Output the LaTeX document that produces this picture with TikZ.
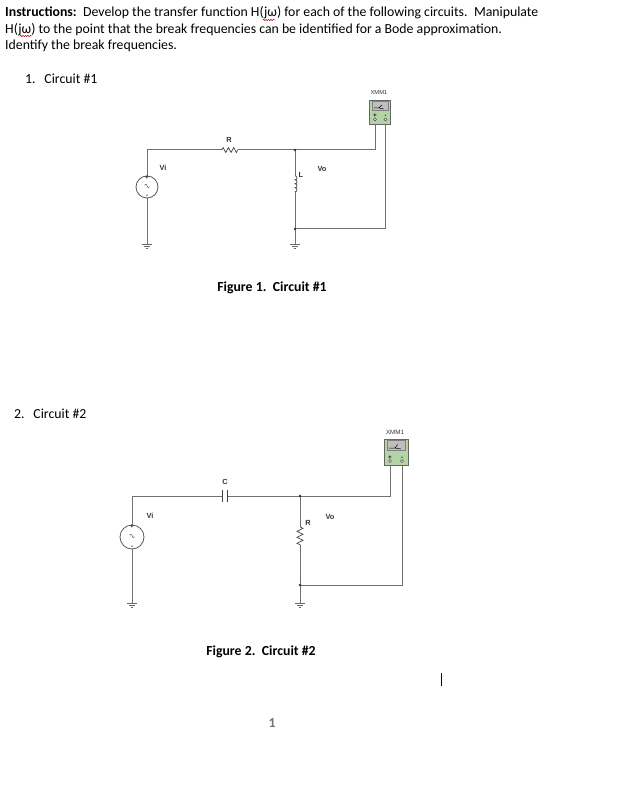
\documentclass[tikz,border=0pt]{standalone}
\usepackage{fontspec}
\setmainfont{Carlito}
\newfontfamily\schfont{Liberation Sans}
\usetikzlibrary{positioning,decorations.pathmorphing}

\definecolor{wiregray}{HTML}{707070}
\definecolor{metergreen}{HTML}{B4D3A6}

\tikzset{
    body/.style={anchor=west, inner sep=0pt, font=\fontsize{13.8}{15}\selectfont},
    caption/.style={inner sep=0pt, font=\fontsize{13.8}{15}\selectfont\bfseries},
    tag/.style={inner sep=0pt, font=\schfont\fontsize{7.4}{8}\selectfont\bfseries, text=black!80},
    wire/.style={draw=wiregray, line width=1pt},
    part/.style={inner sep=0pt, minimum width=#1, minimum height=6pt},
    srcbox/.style={draw=black!65, fill=white, circle, line width=0.8pt, inner sep=0pt, minimum size=#1,
        font=\fontsize{8}{8}\selectfont},
    meterbox/.style={draw=black!60, fill=metergreen, line width=0.8pt, inner sep=0pt, minimum width=#1, minimum height=24pt},
    port/.style={draw=black!70, fill=white, circle, line width=0.5pt, inner sep=0pt, minimum size=3pt},
    polmark/.style={inner sep=0pt, font=\fontsize{6.5}{6.5}\selectfont\bfseries},
    jdot/.style={fill=black!80, circle, inner sep=0pt, minimum size=2.6pt},
    gnd/.pic={
        \draw[black!60, line width=0.7pt] (-5,0) -- (5,0);
        \draw[black!60, line width=0.7pt] (-3.2,2) -- (3.2,2);
        \draw[black!60, line width=0.7pt] (-1.4,4) -- (1.4,4);
    },
    resistor/.style={draw=black!75, line width=0.7pt, decorate, decoration={zigzag, segment length=5.3pt, amplitude=2.5pt}},
    squiggle/.style={draw=red!80!black, line width=0.5pt, decorate, decoration={snake, segment length=2.4pt, amplitude=0.7pt}},
}

\begin{document}
\begin{tikzpicture}[x=1pt, y=-1pt]
\useasboundingbox (0,0) rectangle (624,786);

% heading text
\node[body] (line1) at (5,13) {\textbf{Instructions:}\, Develop the transfer function H(jω) for each of the following circuits.\, Manipulate};
\node[body] (line2) at (5,30) {H(jω) to the point that the break frequencies can be identified for a Bode approximation.};
\node[body] (line3) at (5,46) {Identify the break frequencies.};
\draw[squiggle] (263,20) -- (275,20);
\draw[squiggle] (20,36) -- (32,36);
\node[body] (item1) at (25,79) {1.\,\, Circuit \#1};
\node[body] (item2) at (14,414) {2.\,\, Circuit \#2};

% circuit 1
\coordinate (c1) at (147,150);
\coordinate (j1) at (295,150);
\coordinate (j2) at (295,229);
\coordinate (g1) at (147,244);
\coordinate (g2) at (295,244);
\node[part=16pt] (r1) at (230,150) {};
\node[part=16pt, rotate=90] (l1) at (295,184) {};
\node[port] (xmm1a) at (375,119.5) {};
\node[port] (xmm1b) at (385.5,119.5) {};
\draw[wire] (c1) -- (g1);
\draw[wire] (c1) -- (r1.west);
\draw[wire] (r1.east) -- (j1) -- (l1.east);
\draw[wire] (l1.west) -- (g2);
\draw[wire] (j1) -| (xmm1a);
\draw[wire] (j2) -| (xmm1b);
\draw[resistor] (r1.west) -- (r1.east);
\draw[draw=white, line width=1.4pt] (l1.east) -- (l1.west);
\draw[black!75, line width=0.7pt] (l1.east)
    \foreach \bump in {1,...,4} {arc[start angle=-90, end angle=90, radius=2]};
\node[srcbox=22pt] (vs1) at (147,187) {\rotatebox{-30}{$\sim$}};
\node[polmark, below=0.5pt of vs1.north] (vs1p) {+};
\node[polmark, above=1pt of vs1.south] (vs1m) {-};
\node[meterbox=21pt] (xmm1) at (380,112) {};
\node[draw=black!50, fill=black!25, line width=0.4pt, minimum width=16pt, minimum height=9pt, inner sep=0pt, below=1.5pt of xmm1.north] (disp1) {};
\node[port] at (xmm1a) {};
\node[port] at (xmm1b) {};
\node[polmark, above=0pt of xmm1a] (plus1) {+};
\node[polmark, above=0pt of xmm1b] (minus1) {-};
\draw[black, line width=0.5pt] (disp1.south west) ++(2,-2.5) -- ++(5,0) -- ++(3,-3) ++(-3,3) -- ++(5,1);
\node[jdot] (j1dot) at (j1) {};
\node[jdot] (j2dot) at (j2) {};
\pic at (g1) {gnd};
\pic at (g2) {gnd};
\node[tag] (lr1) at (229,140) {R};
\node[tag] (lvi1) at (163,168) {Vi};
\node[tag] (ll1) at (301,175) {L};
\node[tag] (lvo1) at (322,169) {Vo};
\node[tag, font=\schfont\fontsize{5.8}{7}\selectfont] (lx1) at (379,93) {XMM1};
\node[caption] (fig1) at (272,287.5) {Figure 1.\, Circuit \#1};

% circuit 2
\coordinate (c3) at (132,496);
\coordinate (j3) at (300,496);
\coordinate (j4) at (300,585);
\coordinate (g3) at (132,603);
\coordinate (g4) at (300,603);
\node[part=4pt] (c2) at (225,496) {};
\node[part=18pt, rotate=90] (r2) at (300,536) {};
\node[port] (xmm2a) at (390,461) {};
\node[port] (xmm2b) at (402,461) {};
\draw[wire] (c3) -- (g3);
\draw[wire] (c3) -- (c2.west);
\draw[wire] (c2.east) -- (j3) -- (r2.east);
\draw[wire] (r2.west) -- (g4);
\draw[wire] (j3) -| (xmm2a);
\draw[wire] (j4) -| (xmm2b);
\draw[black!75, line width=0.9pt] (c2.west) ++(0,-6) -- ++(0,12);
\draw[black!75, line width=0.9pt] (c2.east) ++(0,-6) -- ++(0,12);
\draw[resistor, decoration={zigzag, segment length=6pt, amplitude=3pt}] (r2.east) -- (r2.west);
\node[srcbox=24pt] (vs2) at (132,537) {\rotatebox{-30}{$\sim$}};
\node[polmark, below=0.5pt of vs2.north] (vs2p) {+};
\node[polmark, above=1pt of vs2.south] (vs2m) {-};
\node[meterbox=24pt, minimum height=26pt] (xmm2) at (396,452) {};
\node[draw=black!50, fill=black!25, line width=0.4pt, minimum width=18pt, minimum height=10pt, inner sep=0pt, below=1.5pt of xmm2.north] (disp2) {};
\node[port] at (xmm2a) {};
\node[port] at (xmm2b) {};
\node[polmark, above=0pt of xmm2a] (plus2) {+};
\node[polmark, above=0pt of xmm2b] (minus2) {-};
\draw[black, line width=0.5pt] (disp2.south west) ++(2,-2.5) -- ++(6,0) -- ++(3,-3.5) ++(-3,3.5) -- ++(6,1);
\node[jdot] (j3dot) at (j3) {};
\node[jdot] (j4dot) at (j4) {};
\pic at (g3) {gnd};
\pic at (g4) {gnd};
\node[tag] (lc2) at (225,482) {C};
\node[tag] (lvi2) at (150,516) {Vi};
\node[tag] (lr2) at (308,523) {R};
\node[tag] (lvo2) at (330,517) {Vo};
\node[tag, font=\schfont\fontsize{6.2}{7}\selectfont] (lx2) at (395,432) {XMM1};
\node[caption] (fig2) at (261,652) {Figure 2.\, Circuit \#2};

% page number and cursor
\node[caption, text=black!55] (pagenum) at (272,723) {1};
\draw[black, line width=0.8pt] (441,673) -- (441,686);
\end{tikzpicture}
\end{document}
